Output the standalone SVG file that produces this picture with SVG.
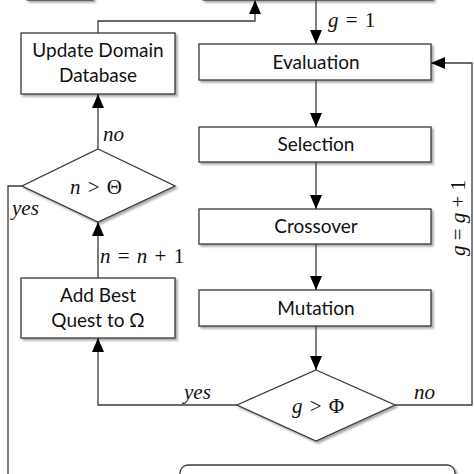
<svg xmlns="http://www.w3.org/2000/svg" width="474" height="474" viewBox="0 0 474 474">
<defs>
<filter id="sh" x="-10%" y="-10%" width="130%" height="140%">
<feDropShadow dx="2" dy="2" stdDeviation="1.2" flood-color="#000" flood-opacity="0.35"/>
</filter>
<marker id="ahb" viewBox="0 0 14 12" refX="14" refY="6" markerWidth="14" markerHeight="12" markerUnits="userSpaceOnUse" orient="auto">
<path d="M0,0 L14,6 L0,12 Z" fill="#000"/>
</marker>
</defs>
<style>
.box{fill:#fff;stroke:#3a3a3a;stroke-width:1.3;filter:url(#sh)}
.t{font-family:Lato,"Open Sans",sans-serif;font-size:19px;fill:#111;text-anchor:middle}
.m{font-family:"Liberation Serif","DejaVu Serif",serif;font-size:21px;fill:#111}
.w{word-spacing:2px}
.i{font-style:italic}
.c{fill:none;stroke:#3a3a3a;stroke-width:1.3}
</style>
<rect width="474" height="474" fill="#fff"/>

<g id="top-left-box"><rect class="box" x="27" y="-40" width="66" height="40"/></g>
<g id="top-right-box"><rect class="box" x="203" y="-40" width="230" height="40"/></g>

<g id="update-domain-database">
<rect class="box" x="21" y="33" width="154" height="61"/>
<text class="t" x="98" y="57">Update Domain</text>
<text class="t" x="98" y="82">Database</text>
</g>

<g id="evaluation">
<rect class="box" x="199" y="44" width="232" height="36"/>
<text class="t" x="316" y="69">Evaluation</text>
</g>
<g id="selection">
<rect class="box" x="199" y="127" width="232" height="35"/>
<text class="t" x="316" y="151">Selection</text>
</g>
<g id="crossover">
<rect class="box" x="199" y="209" width="232" height="35"/>
<text class="t" x="316" y="233">Crossover</text>
</g>
<g id="mutation">
<rect class="box" x="199" y="290" width="232" height="36"/>
<text class="t" x="316" y="315">Mutation</text>
</g>

<g id="decision-g">
<polygon class="box" points="316,370 395,405 316,441 237,405"/>
<text class="m w" x="318" y="413" text-anchor="middle"><tspan class="i">g</tspan> &gt; Φ</text>
</g>

<g id="decision-n">
<polygon class="box" points="98,149 175,186 98,222 22,186"/>
<text class="m w" x="96" y="194" text-anchor="middle"><tspan class="i">n</tspan> &gt; Θ</text>
</g>

<g id="add-best-quest">
<rect class="box" x="21" y="278" width="154" height="60"/>
<text class="t" x="98" y="302">Add Best</text>
<text class="t" x="98" y="327">Quest to Ω</text>
</g>

<g id="bottom-box">
<rect class="box" x="180" y="465" width="275" height="40" rx="8"/>
</g>

<g id="connectors">
<path class="c" d="M98,33 V21 H255 V0" marker-end="url(#ahb)"/>
<path class="c" d="M316,0 V44" marker-end="url(#ahb)"/>
<path class="c" d="M316,80 V127" marker-end="url(#ahb)"/>
<path class="c" d="M316,162 V209" marker-end="url(#ahb)"/>
<path class="c" d="M316,244 V290" marker-end="url(#ahb)"/>
<path class="c" d="M316,326 V370" marker-end="url(#ahb)"/>
<path class="c" d="M395,405 H472 V63 H431" marker-end="url(#ahb)"/>
<path class="c" d="M237,405 H98 V338" marker-end="url(#ahb)"/>
<path class="c" d="M98,278 V222" marker-end="url(#ahb)"/>
<path class="c" d="M98,149 V94" marker-end="url(#ahb)"/>
<path class="c" d="M22,186 H8 V474"/>
</g>

<g id="labels">
<text class="m w" x="328" y="27"><tspan class="i">g</tspan> = 1</text>
<text class="m" x="103" y="141"><tspan class="i">no</tspan></text>
<text class="m" x="12" y="215"><tspan class="i">yes</tspan></text>
<text class="m w" x="100" y="263"><tspan class="i">n</tspan> = <tspan class="i">n</tspan> + 1</text>
<text class="m" x="184" y="399"><tspan class="i">yes</tspan></text>
<text class="m" x="414" y="399"><tspan class="i">no</tspan></text>
<text class="m" transform="translate(465,218) rotate(-90)" text-anchor="middle"><tspan class="i">g</tspan> = <tspan class="i">g</tspan> + 1</text>
</g>
</svg>
